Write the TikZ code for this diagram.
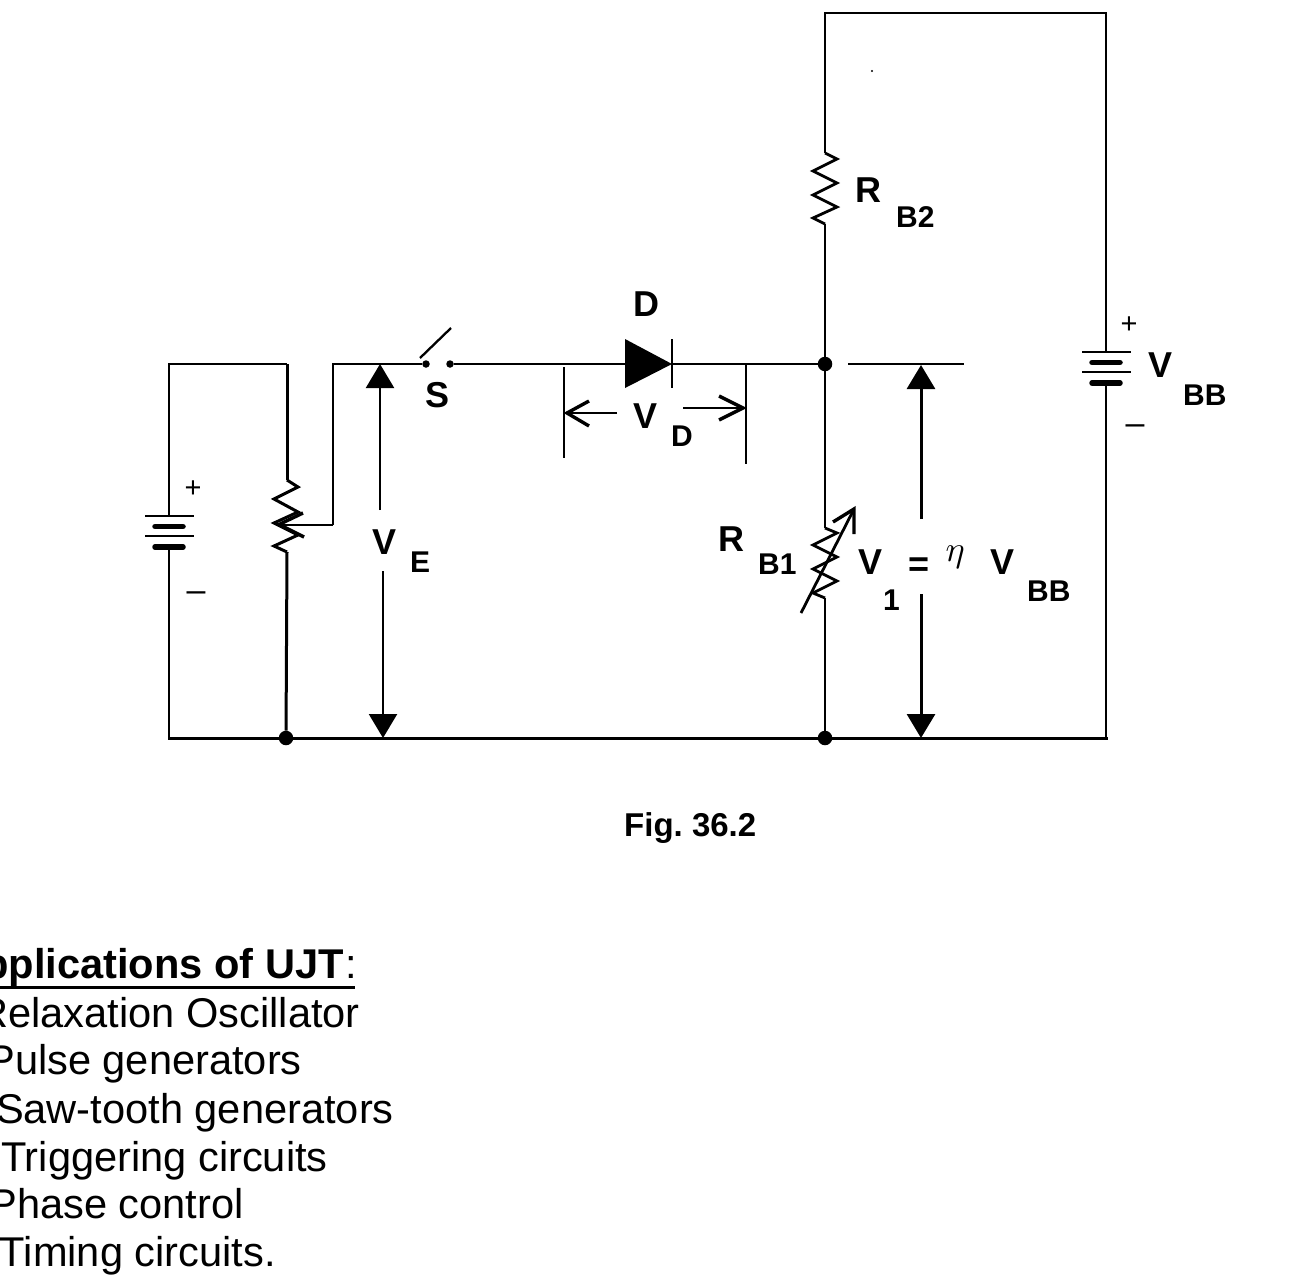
\documentclass[tikz,border=0pt]{standalone}
\usepackage{fontspec}
\setmainfont{Liberation Sans}
\frenchspacing
\usetikzlibrary{arrows.meta}
\tikzset{
  wire/.style = {line width = 2.3pt, line join = miter},
  zigzag/.style = {line width = 2.8pt, line join = miter},
  heavywire/.style = {line width = 3pt},
  solidarrow/.style = {heavywire, -{Triangle[length = 24pt, width = 28pt]}},
  barb/.style = {line width = 3.4pt, line join = miter},
  junction/.style = {circle, fill = black, inner sep = 0pt, minimum size = 14.5pt},
  terminal/.style = {circle, fill = black, inner sep = 0pt, minimum size = 7.5pt},
  mainlabel/.style = {anchor = base west, inner sep = 0pt, font = \fontsize{36}{36}\selectfont\bfseries},
  sublabel/.style = {anchor = base west, inner sep = 0pt, font = \fontsize{30}{30}\selectfont\bfseries},
  pluslabel/.style = {inner sep = 0pt, font = \fontsize{29}{29}\selectfont},
  minuslabel/.style = {inner sep = 0pt, font = \fontsize{34}{34}\selectfont},
  listline/.style = {anchor = base east, inner sep = 0pt, font = \fontsize{41.6}{41.6}\selectfont}
}
\begin{document}
\begin{tikzpicture}[x = 1pt, y = -1pt]
\useasboundingbox (0,0) rectangle (1297,1285);
% corners of the circuit
\coordinate (lefttop) at (169,364);
\coordinate (potup) at (287,364);
\coordinate (leftbot) at (169,738);
\coordinate (wipertop) at (333,364);
\coordinate (wiperend) at (333,525);
\coordinate (wipertip) at (278,525);
\coordinate (toplft) at (825,13);
\coordinate (toprgt) at (1106,13);
\coordinate (rightbot) at (1106,738);
\coordinate (stubl) at (848,364);
\coordinate (stubr) at (964,364);
\coordinate (diodeleft) at (625,364);
\coordinate (dioderight) at (672,364);
\node [junction] (potbot) at (286,738) {};
\node [junction] (emitter) at (825,364) {};
\node [junction] (base) at (825,738) {};
\node [terminal] (swa) at (426,364) {};
\node [terminal] (swb) at (450,364) {};
% wires
\draw [wire] (potup) -- (lefttop) -- (169,516);
\draw [wire] (169,547) -- (leftbot);
\draw [heavywire, line cap = rect] (leftbot) -- (potbot) -- (base) -- (rightbot);
\draw [wire] (rightbot) -- (1106,383);
\draw [wire] (1106,352) -- (toprgt) -- (toplft) -- (825,153);
\draw [wire] (825,224) -- (emitter) -- (825,528);
\draw [wire] (825,598) -- (base);
\draw [heavywire] (potup) -- (287,480);
\draw [heavywire] (287,552) -- (potbot);
\draw [wire] (wiperend) -- (wipertop) -- (swa);
\draw [wire] (swb) -- (diodeleft);
\draw [wire] (dioderight) -- (emitter);
\draw [wire] (stubl) -- (stubr);
\draw [wire] (420,358) -- (451,328);
% batteries
\foreach \bx/\by in {169/516,1106/352} {
  \draw [wire] (\bx-24,\by) -- (\bx+25,\by);
  \draw [wire] (\bx-24,\by+20) -- (\bx+25,\by+20);
  \draw [line width = 5.5pt, line cap = round] (\bx-14,\by+10.5) -- (\bx+14,\by+10.5);
  \draw [line width = 5.5pt, line cap = round] (\bx-14,\by+31) -- (\bx+14,\by+31);
}
% resistors
\draw [heavywire, line join = miter] (287,480) -- (298,487) -- (274,499) -- (298,512) -- (274,523) -- (298,535) -- (274,546) -- (287,552);
\draw [zigzag] (825,153) -- (837,159) -- (813,171) -- (837,183) -- (813,195) -- (837,207) -- (813,218) -- (825,224);
\draw [zigzag] (825,528) -- (837,533) -- (813,545) -- (837,557) -- (813,569) -- (837,581) -- (813,593) -- (825,598);
\draw [zigzag] (801,613) -- (854,509);
\draw [barb] (833,522) -- (854,509) -- (854,534);
\draw [wire] (wiperend) -- (wipertip);
\draw [barb] (303,513) -- (279,524.5) -- (304,537);
% diode
\fill (625,339) -- (672,364) -- (625,388) -- cycle;
\draw [wire] (672,339) -- (672,388);
% voltage marks
\draw [wire, -{Triangle[length = 24pt, width = 28pt]}] (380,510) -- (380,364);
\draw [wire, -{Triangle[length = 24pt, width = 28pt]}] (383,571) -- (383,738);
\draw [solidarrow] (921,519) -- (921,365);
\draw [solidarrow] (921,594) -- (921,738);
\draw [wire] (564,367) -- (564,458);
\draw [wire] (746,364) -- (746,464);
\draw [wire] (617,413) -- (568,413);
\draw [barb] (589,401) -- (567,413) -- (589,426);
\draw [wire] (683,408) -- (742,408);
\draw [barb] (719,396) -- (743,408) -- (719,420);
\fill (872,71) circle (1.2);
% labels
\node [mainlabel] (lblrb2) at (855,202) {R};
\node [sublabel] (lblb2) at (896,227) {B2};
\node [mainlabel] (lbld) at (633,316) {D};
\node [mainlabel] (lbls) at (425,407) {S};
\node [mainlabel] (lblvd) at (633,428) {V};
\node [sublabel] (lbldsub) at (671,446) {D};
\node [mainlabel] (lblve) at (372,554) {V};
\node [sublabel] (lblesub) at (410,572) {E};
\node [mainlabel] (lblrb1) at (718,551) {R};
\node [sublabel] (lblb1) at (758,574) {B1};
\node [mainlabel] (lblv1) at (858,574) {V};
\node [sublabel] (lbl1) at (883,610) {1};
\node [mainlabel] (lbleq) at (908,576) {=};
\node [anchor = base west, inner sep = 0pt, scale = 3.6] (lbleta) at (945,561) {$\eta$};
\node [mainlabel] (lblvbb) at (990,574) {V};
\node [sublabel] (lblbb) at (1027,601) {BB};
\node [mainlabel] (lblvr) at (1148,377) {V};
\node [sublabel] (lblbbr) at (1183,405) {BB};
\node [pluslabel] (plusl) at (193,489) {+};
\node [minuslabel] (minusl) at (196,597) {–};
\node [pluslabel] (plusr) at (1129,325) {+};
\node [minuslabel] (minusr) at (1135,430) {–};
\node [anchor = base west, inner sep = 0pt, font = \fontsize{33}{33}\selectfont\bfseries] (figlabel) at (624,836) {Fig. 36.2};
% list of uses
\node [listline, font = \fontsize{41.6}{41.6}\selectfont\bfseries] (usehead) at (344,978) {Applications of UJT};
\node [listline, anchor = base west] (usecolon) at (345,978) {:};
\draw [heavywire] (0,987) -- (355,987);
\node [listline] (useone) at (360,1027) {Relaxation Oscillator};
\node [listline] (usetwo) at (302,1074) {Pulse generators};
\node [listline] (usethree) at (394,1123) {Saw-tooth generators};
\node [listline] (usefour) at (328,1171) {Triggering circuits};
\node [listline] (usefive) at (244,1218) {Phase control};
\node [listline] (usesix) at (276,1266) {Timing circuits.};
\end{tikzpicture}
\end{document}
